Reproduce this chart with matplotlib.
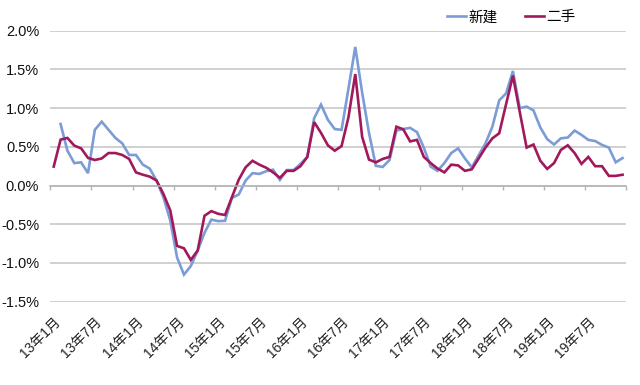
import matplotlib
matplotlib.use('Agg')
import matplotlib.pyplot as plt
import numpy as np
from matplotlib.ticker import FuncFormatter

nan = np.nan
# monthly change (%) 2013-01 .. 2019-12
new_home = [nan, 0.795, 0.45, 0.29, 0.30, 0.16, 0.72, 0.825, 0.72, 0.615,
            0.545, 0.395, 0.395, 0.27, 0.22, 0.065, -0.15, -0.45, -0.93, -1.15,
            -1.04, -0.84, -0.61, -0.44, -0.46, -0.455, -0.16, -0.115, 0.065, 0.16,
            0.15, 0.185, 0.205, 0.073, 0.20, 0.20, 0.28, 0.37, 0.87, 1.045,
            0.85, 0.73, 0.72, 1.25, 1.79, 1.2, 0.68, 0.255, 0.24, 0.33,
            0.71, 0.73, 0.745, 0.69, 0.49, 0.245, 0.19, 0.29, 0.42, 0.48,
            0.35, 0.235, 0.39, 0.545, 0.76, 1.10, 1.19, 1.48, 1.00, 1.02,
            0.97, 0.75, 0.60, 0.53, 0.61, 0.62, 0.71, 0.655, 0.59, 0.575,
            0.525, 0.49, 0.30, 0.355]
second_hand = [0.245, 0.593, 0.615, 0.516, 0.48, 0.357, 0.33, 0.35, 0.42, 0.42,
               0.395, 0.344, 0.17, 0.14, 0.116, 0.065, -0.107, -0.32, -0.78, -0.81,
               -0.96, -0.84, -0.39, -0.33, -0.365, -0.38, -0.15, 0.077, 0.236, 0.32,
               0.27, 0.23, 0.17, 0.10, 0.19, 0.19, 0.25, 0.37, 0.82, 0.68,
               0.52, 0.45, 0.51, 0.88, 1.44, 0.63, 0.335, 0.30, 0.344, 0.37,
               0.76, 0.726, 0.57, 0.59, 0.37, 0.29, 0.22, 0.17, 0.27, 0.26,
               0.19, 0.21, 0.35, 0.49, 0.61, 0.675, 1.05, 1.42, 0.95, 0.49,
               0.53, 0.32, 0.215, 0.29, 0.46, 0.52, 0.42, 0.28, 0.37, 0.25,
               0.25, 0.125, 0.125, 0.14]
tick_labels = ['13年1月', '13年7月', '14年1月', '14年7月', '15年1月', '15年7月',
               '16年1月', '16年7月', '17年1月', '17年7月', '18年1月', '18年7月',
               '19年1月', '19年7月']
series_names = ['新建', '二手']

plt.rcParams['font.family'] = ['Liberation Sans', 'Noto Sans CJK SC', 'DejaVu Sans']

fig = plt.figure(figsize=(6.4, 3.85), dpi=100)
ax = fig.add_axes([50.3 / 640, 1 - 301.7 / 385, (626 - 50.3) / 640, (301.7 - 30.7) / 385])

n = len(second_hand)
x = np.arange(n)
ax.plot(x, new_home, color='#7B9CD5', lw=1.9, label=series_names[0], solid_joinstyle='miter')
ax.plot(x, second_hand, color='#A2195B', lw=1.9, label=series_names[1], solid_joinstyle='miter')

ax.set_xlim(-0.5, n - 0.5)
ax.set_ylim(-1.5, 2.0)
ax.set_yticks(np.arange(-1.5, 2.01, 0.5))
ax.yaxis.set_major_formatter(FuncFormatter(lambda v, p: f'{v:.1f}%'))
ax.grid(axis='y', color='#c4c4c4', lw=1.1)
ax.set_axisbelow(True)
for s in ['top', 'right', 'left']:
    ax.spines[s].set_visible(False)
ax.spines['bottom'].set_position(('data', 0))
ax.spines['bottom'].set_color('#b4b4b4')
ax.spines['bottom'].set_linewidth(1.1)
ax.tick_params(axis='y', length=0, pad=8, labelsize=10.5, labelcolor='#111111')

major_pos = np.arange(0, n, 6)
ax.set_xticks(major_pos)
ax.set_xticklabels(tick_labels, rotation=45, ha='right', va='top', rotation_mode='anchor')
ax.set_xticks(np.arange(-0.5, n, 6), minor=True)
ax.tick_params(axis='x', which='major', length=0, pad=93, labelsize=10, labelcolor='#222222')
ax.tick_params(axis='x', which='minor', length=3.2, width=1.0, color='#b4b4b4', direction='out')

fig.legend(loc='center left', bbox_to_anchor=(447 / 640, 1 - 17.5 / 385), ncol=2,
           frameon=False, handlelength=1.3, handletextpad=0.15, columnspacing=1.9,
           borderpad=0, borderaxespad=0, fontsize=10.5)

fig.savefig('out.png', dpi=100)
